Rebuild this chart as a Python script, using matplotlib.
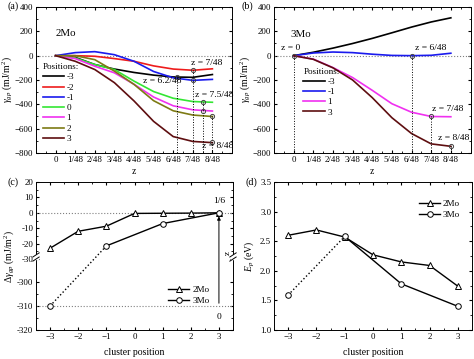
import matplotlib
matplotlib.use("Agg")
import matplotlib.pyplot as plt
import numpy as np
from matplotlib.ticker import FixedLocator, MultipleLocator

plt.rcParams['font.family'] = ['Liberation Serif', 'DejaVu Serif']
plt.rcParams['mathtext.fontset'] = 'custom'
plt.rcParams['mathtext.rm'] = 'Liberation Serif'
plt.rcParams['mathtext.it'] = 'Liberation Serif:italic'
plt.rcParams['xtick.direction'] = 'in'
plt.rcParams['ytick.direction'] = 'in'
plt.rcParams['xtick.top'] = True
plt.rcParams['ytick.right'] = True
plt.rcParams['xtick.major.size'] = 2.5
plt.rcParams['ytick.major.size'] = 2.5
plt.rcParams['xtick.minor.size'] = 1.5
plt.rcParams['ytick.minor.size'] = 1.5
plt.rcParams['axes.linewidth'] = 0.7

# ---- data ----
z_steps = np.arange(9)                    # z in units of 1/48
z_labels = ['0', '1/48', '2/48', '3/48', '4/48', '5/48', '6/48', '7/48', '8/48']

pos_2mo = ['-3', '-2', '-1', '0', '1', '2', '3']
gsf_2mo = [
    [0, -14, -73, -110, -138, -160, -175, -178, -155],
    [0, 0, -5, -24, -46, -84, -110, -120, -108],
    [0, 25, 33, 8, -46, -130, -182, -203, -195],
    [0, -19, -73, -114, -209, -295, -350, -377, -383],
    [0, -24, -87, -141, -235, -340, -412, -445, -455],
    [0, 0, -33, -127, -236, -370, -453, -488, -500],
    [0, -46, -114, -222, -372, -540, -665, -705, -715],
]
min_z_2mo = [6.2, 7, 7, 7.5, 7.5, 8, 8]
min_g_2mo = [-176, -120, -203, -383, -453, -500, -713]

pos_3mo = ['-3', '-1', '1', '3']
gsf_3mo = [
    [0, 28, 62, 100, 142, 188, 235, 277, 311],
    [0, 22, 30, 25, 12, 2, 0, 3, 20],
    [0, -28, -98, -180, -285, -395, -465, -500, -502],
    [0, -30, -100, -200, -345, -510, -640, -725, -745],
]
min_z_3mo = [0, 6, 7, 8]
min_g_3mo = [0, 0, -500, -745]

cluster = [-3, -2, -1, 0, 1, 2, 3]
dgsf_2mo = [-23, -12, -8.7, -0.4, -0.3, -0.2, 0]
cluster_3mo = [-3, -1, 1, 3]
dgsf_3mo = [-310, -21.5, -7, 0]

ep_2mo = [2.60, 2.69, 2.57, 2.27, 2.15, 2.09, 1.74]
ep_3mo = [1.59, 2.58, 1.78, 1.40]

colors_2mo = ['black', '#ee1c1c', '#1a1aee', '#33e633', '#f030f0', '#7d7a14', '#5e0e10']
colors_3mo = ['black', '#1a1aee', '#f030f0', '#5e0e10']

W, H = 474, 359
fig = plt.figure(figsize=(W / 100, H / 100), dpi=100)

def box(l, t, r, b):
    return [l / W, (H - b) / H, (r - l) / W, (b - t) / H]

ax_a = fig.add_axes(box(36, 7, 232, 153))
ax_b = fig.add_axes(box(274, 7, 470.5, 153))
ax_c = fig.add_axes(box(36, 182, 233, 330))
ax_d = fig.add_axes(box(274, 182, 472, 330))

fs_tick = 6.4
fs_lab = 7.0
fs_txt = 6.8
fs_leg = 6.6

def gsf_axes(ax):
    ax.set_xlim(-1, 9)
    ax.set_ylim(-800, 400)
    ax.set_xticks(z_steps)
    ax.set_xticklabels(z_labels)
    ax.xaxis.set_minor_locator(MultipleLocator(0.5))
    ax.set_yticks(np.arange(-800, 401, 200))
    ax.yaxis.set_minor_locator(MultipleLocator(100))
    ax.tick_params(labelsize=fs_tick, pad=2)
    ax.axhline(0, color='grey', ls=':', lw=0.8)
    ax.set_xlabel('z', fontsize=fs_lab, labelpad=2)
    ax.set_ylabel(r'$\gamma_{gp}$ (mJ/m$^2$)', fontsize=fs_lab, labelpad=0)

# ---- (a) ----
ax = ax_a
gsf_axes(ax)
for lab, vals, c in zip(pos_2mo, gsf_2mo, colors_2mo):
    ax.plot(z_steps, vals, color=c, lw=1.2, label=lab)
for zx, gy in [(6.2, -176), (7, -120), (7.5, -383), (8, -500)]:
    ax.plot([zx, zx], [gy, -800], color='black', ls=':', lw=0.7)
ax.plot(min_z_2mo, min_g_2mo, 'o', ms=3, mfc='none', mec='#444444', mew=0.7, ls='none')
ax.text(0, 185, '2Mo', fontsize=7.8, ha='left', va='center')
ax.text(7.73, -60, 'z = 7/48', fontsize=fs_txt, ha='center', va='center')
ax.text(5.45, -209, 'z = 6.2/48', fontsize=fs_txt, ha='center', va='center')
ax.text(8.08, -323, 'z = 7.5/48', fontsize=fs_txt, ha='center', va='center')
ax.text(8.25, -745, 'z = 8/48', fontsize=fs_txt, ha='center', va='center')
ax.legend(title='Positions:', loc='upper left', bbox_to_anchor=(0.035, 0.615),
          frameon=False, fontsize=fs_leg, title_fontsize=fs_leg, alignment='left',
          handlelength=2.3, handletextpad=0.3, labelspacing=0.2, borderpad=0,
          borderaxespad=0)
fig.text(7 / W, 1 - 6 / H, '(a)', fontsize=7.2, ha='left', va='center')

# ---- (b) ----
ax = ax_b
gsf_axes(ax)
for lab, vals, c in zip(pos_3mo, gsf_3mo, colors_3mo):
    ax.plot(z_steps, vals, color=c, lw=1.2, label=lab)
for zx, gy in zip(min_z_3mo, min_g_3mo):
    ax.plot([zx, zx], [gy, -800], color='black', ls=':', lw=0.7)
ax.plot(min_z_3mo, min_g_3mo, 'o', ms=3, mfc='none', mec='#444444', mew=0.7, ls='none')
ax.text(-0.17, 171, '3Mo', fontsize=7.8, ha='left', va='center')
ax.text(-0.17, 62, 'z = 0', fontsize=fs_txt, ha='center', va='center')
ax.text(6.97, 62, 'z = 6/48', fontsize=fs_txt, ha='center', va='center')
ax.text(7.82, -439, 'z = 7/48', fontsize=fs_txt, ha='center', va='center')
ax.text(8.16, -678, 'z = 8/48', fontsize=fs_txt, ha='center', va='center')
ax.legend(title='Positions:', loc='upper left', bbox_to_anchor=(0.15, 0.585),
          frameon=False, fontsize=fs_leg, title_fontsize=fs_leg, alignment='left',
          handlelength=2.3, handletextpad=0.3, labelspacing=0.2, borderpad=0,
          borderaxespad=0)
fig.text(242 / W, 1 - 6 / H, '(b)', fontsize=7.2, ha='left', va='center')

# ---- (c) broken y axis via piecewise scale ----
v_knots = np.array([-320.0, -300.0, -30.0, 20.0])
d_knots = np.array([-330.0, -282.0, -259.0, -182.0])

def piecewise(x, xs, ys):
    x = np.asarray(x, dtype=float)
    out = np.interp(x, xs, ys)
    lo = x < xs[0]
    hi = x > xs[-1]
    s0 = (ys[1] - ys[0]) / (xs[1] - xs[0])
    s1 = (ys[-1] - ys[-2]) / (xs[-1] - xs[-2])
    out = np.where(lo, ys[0] + (x - xs[0]) * s0, out)
    out = np.where(hi, ys[-1] + (x - xs[-1]) * s1, out)
    return out

def fwd(v):
    return piecewise(v, v_knots, d_knots)

def inv(d):
    return piecewise(d, d_knots, v_knots)

ax = ax_c
ax.set_yscale('function', functions=(fwd, inv))
ax.set_ylim(-320, 20)
ax.set_xlim(-3.5, 3.5)
ax.set_xticks(cluster)
ax.yaxis.set_major_locator(FixedLocator([20, 10, 0, -10, -20, -30, -300, -310, -320]))
ax.yaxis.set_minor_locator(FixedLocator([15, 5, -5, -15, -25, -305, -315]))
ax.xaxis.set_minor_locator(MultipleLocator(0.5))
ax.yaxis.set_major_formatter(plt.FuncFormatter(lambda v, p: '%d' % round(v)))
ax.yaxis.set_minor_formatter(plt.NullFormatter())
ax.tick_params(labelsize=fs_tick, pad=2)
ax.axhline(0, color='grey', ls=':', lw=0.8)
ax.axhline(-310, color='grey', ls=':', lw=0.8)
ax.plot(cluster, dgsf_2mo, '-^', color='black', lw=1.0, ms=4.5, mfc='white', mew=0.7, label='2Mo')
ax.plot(cluster_3mo[:2], dgsf_3mo[:2], ':', color='black', lw=1.0)
ax.plot(cluster_3mo[1:], dgsf_3mo[1:], '-', color='black', lw=1.0)
ax.plot(cluster_3mo, dgsf_3mo, 'o', color='black', ms=4, mfc='white', mew=0.7)
ax.plot([], [], '-o', color='black', lw=1.0, ms=4, mfc='white', mew=0.7, label='3Mo')
ax.annotate('', xy=(3, -0.5), xytext=(3, -310),
            arrowprops=dict(arrowstyle='-|>', color='black', lw=0.7, mutation_scale=5))
ax.text(3, 7.5, '1/6', fontsize=fs_txt, ha='center', va='center')
ax.text(3, -314.5, '0', fontsize=fs_txt, ha='center', va='center')
ax.text(3.24, -26, 'z', fontsize=fs_txt, ha='center', va='center', rotation=-90)
ax.legend(loc='lower right', bbox_to_anchor=(0.88, 0.17), frameon=False,
          fontsize=fs_leg, handlelength=2.3, handletextpad=0.3, labelspacing=0.25,
          borderpad=0, borderaxespad=0)
ax.set_xlabel('cluster position', fontsize=fs_lab, labelpad=5)
ax.set_ylabel(r'$\Delta\gamma_{gp}$ (mJ/m$^2$)', fontsize=fs_lab, labelpad=0)
# break marks on both spines
yb = (330 - 257) / 148
for xs in (0, 1):
    ax.add_patch(plt.Rectangle((xs - 0.01, yb - 0.014), 0.02, 0.028, transform=ax.transAxes,
                               color='white', clip_on=False, zorder=5))
    for dy in (-0.014, 0.014):
        ax.plot([xs - 0.016, xs + 0.016], [yb + dy - 0.014, yb + dy + 0.014],
                transform=ax.transAxes, color='black', lw=0.7, clip_on=False, zorder=6)
fig.text(7 / W, 1 - 182 / H, '(c)', fontsize=7.2, ha='left', va='center')

# ---- (d) ----
ax = ax_d
ax.set_xlim(-3.5, 3.5)
ax.set_ylim(1.0, 3.5)
ax.set_xticks(cluster)
ax.xaxis.set_minor_locator(MultipleLocator(0.5))
ax.yaxis.set_major_locator(MultipleLocator(0.5))
ax.yaxis.set_minor_locator(MultipleLocator(0.25))
ax.tick_params(labelsize=fs_tick, pad=2)
ax.plot(cluster, ep_2mo, '-^', color='black', lw=1.0, ms=4.5, mfc='white', mew=0.7, label='2Mo')
ax.plot(cluster_3mo[:2], ep_3mo[:2], ':', color='black', lw=1.0)
ax.plot(cluster_3mo[1:], ep_3mo[1:], '-', color='black', lw=1.0)
ax.plot(cluster_3mo, ep_3mo, 'o', color='black', ms=4, mfc='white', mew=0.7)
ax.plot([], [], '-o', color='black', lw=1.0, ms=4, mfc='white', mew=0.7, label='3Mo')
ax.legend(loc='upper right', bbox_to_anchor=(0.94, 0.88), frameon=False,
          fontsize=fs_leg, handlelength=2.3, handletextpad=0.3, labelspacing=0.25,
          borderpad=0, borderaxespad=0)
ax.set_xlabel('cluster position', fontsize=fs_lab, labelpad=5)
ax.set_ylabel(r'$E_p$ (eV)', fontsize=fs_lab, labelpad=3)
fig.text(246 / W, 1 - 182 / H, '(d)', fontsize=7.2, ha='left', va='center')

fig.savefig('out.png', dpi=100)
